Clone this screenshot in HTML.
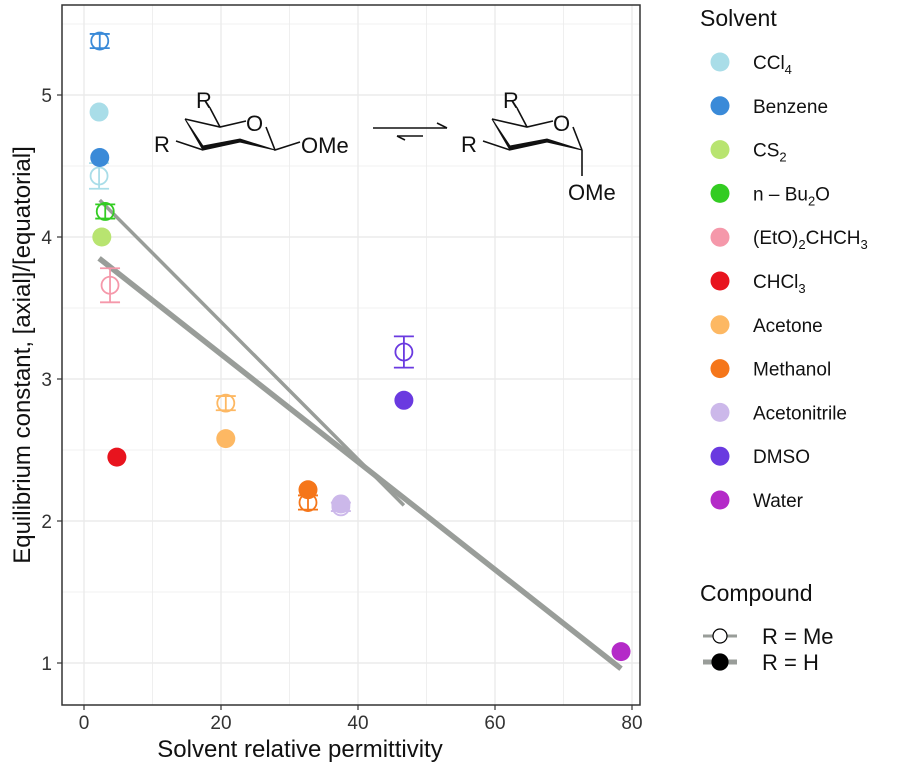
<!DOCTYPE html>
<html><head><meta charset="utf-8"><style>
body{margin:0;background:#fff;}
svg{display:block;font-family:"Liberation Sans",sans-serif;}
</style></head><body>
<svg id="chart" width="900" height="772" viewBox="0 0 900 772">
<rect x="62" y="5" width="578" height="700" fill="#fff"/>
<g id="grid"></g>
<g id="lines"></g>
<g id="points"></g>
<g id="struct" stroke="#111" fill="none" stroke-width="1.6">
  <g>
    <polyline points="185,119 220,127 246,121"/>
    <polyline points="266,127 275,150 300,142"/>
    <polygon points="185,119 203,150 240,142 275,150 240,139 203,146" fill="#111" stroke-width="1"/>
    <line x1="220" y1="127" x2="210" y2="108"/>
    <line x1="176" y1="141" x2="203" y2="150"/>
    <text x="196" y="108" font-size="22" fill="#111" stroke="none">R</text>
    <text x="154" y="152" font-size="22" fill="#111" stroke="none">R</text>
    <text x="246" y="131" font-size="22" fill="#111" stroke="none">O</text>
    <text x="301" y="153" font-size="22" fill="#111" stroke="none">OMe</text>
  </g>
  <g>
    <line x1="373" y1="128" x2="447" y2="128"/>
    <polyline points="437,123 447,128" />
    <line x1="397" y1="136" x2="423" y2="136"/>
    <polyline points="397,136 405,140"/>
  </g>
  <g transform="translate(307,0)">
    <polyline points="185,119 220,127 246,121"/>
    <line x1="266" y1="127" x2="275" y2="150"/>
    <polygon points="185,119 203,150 240,142 275,150 240,139 203,146" fill="#111" stroke-width="1"/>
    <line x1="220" y1="127" x2="210" y2="108"/>
    <line x1="176" y1="141" x2="203" y2="150"/>
    <line x1="275" y1="150" x2="275" y2="176"/>
    <text x="196" y="108" font-size="22" fill="#111" stroke="none">R</text>
    <text x="154" y="152" font-size="22" fill="#111" stroke="none">R</text>
    <text x="246" y="131" font-size="22" fill="#111" stroke="none">O</text>
    <text x="261" y="200" font-size="22" fill="#111" stroke="none">OMe</text>
  </g>
</g>
<rect x="62" y="5" width="578" height="700" fill="none" stroke="#333" stroke-width="1.5"/>
<g id="axes"></g>
<text x="300" y="757" font-size="24" text-anchor="middle" fill="#111">Solvent relative permittivity</text>
<text transform="translate(30,355) rotate(-90)" font-size="24" text-anchor="middle" fill="#111">Equilibrium constant, [axial]/[equatorial]</text>
<g id="legend"></g>
</svg>
<script>
const solvents = ["CCl4","Benzene","CS2","n-Bu2O","(EtO)2CHCH3","CHCl3","Acetone","Methanol","Acetonitrile","DMSO","Water"];
const legendLabels = ["CCl<tspan font-size='13' dy='5'>4</tspan>","Benzene","CS<tspan font-size='13' dy='5'>2</tspan>","n – Bu<tspan font-size='13' dy='5'>2</tspan><tspan dy='-5'>O</tspan>","(EtO)<tspan font-size='13' dy='5'>2</tspan><tspan dy='-5'>CHCH</tspan><tspan font-size='13' dy='5'>3</tspan>","CHCl<tspan font-size='13' dy='5'>3</tspan>","Acetone","Methanol","Acetonitrile","DMSO","Water"];
const colors = ["#a9dde8","#3a8ad8","#b8e470","#33cc22","#f598aa","#e8141e","#fdb863","#f5761a","#ccb8ea","#6a3ae0","#b42ac8"];
const permittivity = [2.2,2.3,2.6,3.1,3.8,4.8,20.7,32.7,37.5,46.7,78.4];
const kMe = [4.43,5.38,null,4.18,3.66,null,2.83,2.13,2.10,3.19,null];
const kMeErr = [0.09,0.05,null,0.05,0.12,null,0.05,0.05,0.03,0.11,null];
const kH = [4.88,4.56,4.00,null,null,2.45,2.58,2.22,2.12,2.85,1.08];
const lineMe = [[2.3,4.26],[46.7,2.11]];
const lineH = [[2.2,3.85],[78.4,0.96]];
const xTicks = [0,20,40,60,80];
const yTicks = [1,2,3,4,5];

const NS="http://www.w3.org/2000/svg";
const X = v => 84 + (v-0)*(632-84)/80;
const Y = v => 663 - (v-1)*142;
function mk(tag, attrs, parent){const e=document.createElementNS(NS,tag);for(const k in attrs)e.setAttribute(k,attrs[k]);parent.appendChild(e);return e;}
const grid=document.getElementById('grid'), axes=document.getElementById('axes');
for(let v=-10; v<=90; v+=10){const x=X(v); if(x<63||x>639)continue;
  const l=mk('line',{x1:x,x2:x,y1:5,y2:705,stroke:'#ebebeb','stroke-width':v%20===0?1.4:0.8},grid);
  
  }
for(let v=0.5; v<=5.6; v+=0.5){const y=Y(v); if(y<6||y>704)continue;
  const l=mk('line',{x1:62,x2:640,y1:y,y2:y,stroke:'#ebebeb','stroke-width':Number.isInteger(v)?1.4:0.8},grid);
  
  }
xTicks.forEach(v=>{const x=X(v);
  mk('line',{x1:x,x2:x,y1:705,y2:710,stroke:'#333','stroke-width':1.2},axes);
  const t=mk('text',{x:x,y:729,'font-size':19,'text-anchor':'middle',fill:'#333'},axes);t.textContent=v;
  
  });
yTicks.forEach(v=>{const y=Y(v);
  mk('line',{x1:57,x2:62,y1:y,y2:y,stroke:'#333','stroke-width':1.2},axes);
  const t=mk('text',{x:52,y:y+7,'font-size':19,'text-anchor':'end',fill:'#333'},axes);t.textContent=v;
  
  });
const lines=document.getElementById('lines');
const lm=mk('line',{x1:X(lineMe[0][0]),y1:Y(lineMe[0][1]),x2:X(lineMe[1][0]),y2:Y(lineMe[1][1]),stroke:'#999d99','stroke-width':3.5},lines);


const lh=mk('line',{x1:X(lineH[0][0]),y1:Y(lineH[0][1]),x2:X(lineH[1][0]),y2:Y(lineH[1][1]),stroke:'#999d99','stroke-width':5.5},lines);


const pts=document.getElementById('points');
solvents.forEach((s,i)=>{const x=X(permittivity[i]);
  if(kH[i]!==null){const c=mk('circle',{cx:x,cy:Y(kH[i]),r:9.5,fill:colors[i]},pts);
    
    }
  if(kMe[i]!==null){const g=mk('g',{stroke:colors[i],'stroke-width':1.8,fill:'none'},pts);
    
    
    const y=Y(kMe[i]), yt=Y(kMe[i]+kMeErr[i]), yb=Y(kMe[i]-kMeErr[i]);
    mk('circle',{cx:x,cy:y,r:8.5},g);
    mk('line',{x1:x,x2:x,y1:yt,y2:yb},g);
    mk('line',{x1:x-10,x2:x+10,y1:yt,y2:yt},g);
    mk('line',{x1:x-10,x2:x+10,y1:yb,y2:yb},g);}
});
const leg=document.getElementById('legend');
const lt=mk('text',{x:700,y:26,'font-size':23,fill:'#111'},leg);lt.textContent='Solvent';


solvents.forEach((s,i)=>{const y=62+i*43.8;
  const g=mk('g',{},leg);
  
  
  mk('circle',{cx:720,cy:y,r:9.5,fill:colors[i]},g);
  const t=mk('text',{x:753,y:y+7,'font-size':19,fill:'#111'},g);t.innerHTML=legendLabels[i];});
const ct=mk('text',{x:700,y:601,'font-size':23,fill:'#111'},leg);ct.textContent='Compound';


[['R = Me',3,false,636],['R = H',5,true,662]].forEach(([lab,w,filled,y])=>{
  const g=mk('g',{},leg);
  
  
  mk('line',{x1:703,x2:737,y1:y,y2:y,stroke:'#999d99','stroke-width':w},g);
  mk('circle',{cx:720,cy:y,r:filled?8:7,fill:filled?'#000':'#fff',stroke:'#000','stroke-width':1.2},g);
  const t=mk('text',{x:762,y:y+8,'font-size':22,fill:'#111'},g);t.textContent=lab;});
</script>
</body></html>
